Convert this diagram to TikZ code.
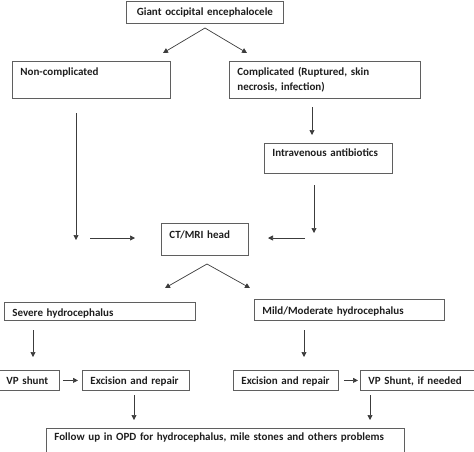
\documentclass[tikz,border=0pt]{standalone}
\usepackage{fontspec}
\setmainfont{Carlito}
\usetikzlibrary{arrows.meta}
\definecolor{boxcolor}{RGB}{95, 95, 95}
\definecolor{arrowcolor}{RGB}{60, 60, 60}
\definecolor{textcolor}{RGB}{30, 30, 30}
\tikzset{
    box/.style={rectangle, draw=boxcolor, line width=0.8pt, anchor=north west, align=left, inner xsep=8pt, inner ysep=0pt, text=textcolor, font=\bfseries\fontsize{11}{15}\selectfont},
    flow arrow/.style={-{Triangle[width=5pt,length=5pt]}, draw=arrowcolor, line width=0.7pt}
}

\begin{document}
\begin{tikzpicture}[x=1pt, y=-1pt]
\useasboundingbox (0,0) rectangle (474,451);

\node[box, align=center, text width=141pt, text height=14.5pt, text depth=7.5pt] (giant) at (126,0.5) {Giant occipital encephalocele};
\node[box, text width=142pt, text height=14pt, text depth=23pt] (noncomp) at (12,61) {Non-complicated};
\node[box, text width=175pt, minimum height=37pt] (comp) at (229,61) {Complicated (Ruptured, skin\\necrosis, infection)};
\node[box, text width=112pt, text height=13pt, text depth=17pt] (antibio) at (264,143) {Intravenous antibiotics};
\node[box, text width=71pt, text height=15pt, text depth=17pt] (ctmri) at (161,223) {CT/MRI head};
\node[box, text width=175pt, text height=14pt, text depth=4pt] (severe) at (4,302) {Severe hydrocephalus};
\node[box, text width=174pt, text height=15pt, text depth=6pt] (mild) at (254,299) {Mild/Moderate hydrocephalus};
\node[box, text width=45pt, text height=14pt, text depth=6pt] (vpleft) at (-2,370) {VP shunt};
\node[box, text width=91pt, text height=14pt, text depth=6pt] (excleft) at (82,370) {Excision and repair};
\node[box, text width=89pt, text height=14pt, text depth=6pt] (excright) at (233,370) {Excision and repair};
\node[box, text width=104pt, text height=14pt, text depth=6pt] (vpright) at (360,370) {VP Shunt, if needed};
\node[box, text width=342pt, text height=12pt, text depth=18pt] (follow) at (46,428) {Follow up in OPD for hydrocephalus, mile stones and others problems};

% free arrow ends
\coordinate (split top) at (205,28);
\coordinate (to noncomp) at (163,53);
\coordinate (to comp) at (247,53);
\coordinate (comp out) at (312,107);
\coordinate (antibio in) at (312,135);
\coordinate (noncomp out) at (76,113);
\coordinate (noncomp down) at (76,240);
\coordinate (left feed) at (90,238);
\coordinate (ct left) at (135,238);
\coordinate (antibio out) at (314,185);
\coordinate (antibio down) at (314,233);
\coordinate (right feed) at (305,238);
\coordinate (ct right) at (268,238);
\coordinate (split ct) at (207,264);
\coordinate (to severe) at (165,288);
\coordinate (to mild) at (250,288);
\coordinate (severe out) at (33,330);
\coordinate (vp in) at (33,357);
\coordinate (mild out) at (304,330);
\coordinate (exc in) at (304,357);
\coordinate (excleft out) at (134,395);
\coordinate (follow left) at (134,420);
\coordinate (vpright out) at (370,395);
\coordinate (follow right) at (370,420);

\draw[flow arrow] (split top) -- (to noncomp);
\draw[flow arrow] (split top) -- (to comp);
\draw[flow arrow] (comp out) -- (antibio in);
\draw[flow arrow] (noncomp out) -- (noncomp down);
\draw[flow arrow] (left feed) -- (ct left);
\draw[flow arrow] (antibio out) -- (antibio down);
\draw[flow arrow] (right feed) -- (ct right);
\draw[flow arrow] (split ct) -- (to severe);
\draw[flow arrow] (split ct) -- (to mild);
\draw[flow arrow] (severe out) -- (vp in);
\draw[flow arrow] (mild out) -- (exc in);
\draw[flow arrow] ([xshift=3pt]vpleft.east) -- ([xshift=-4pt]excleft.west);
\draw[flow arrow] ([xshift=5pt]excright.east) -- ([xshift=-2pt]vpright.west);
\draw[flow arrow] (excleft out) -- (follow left);
\draw[flow arrow] (vpright out) -- (follow right);
\end{tikzpicture}
\end{document}
